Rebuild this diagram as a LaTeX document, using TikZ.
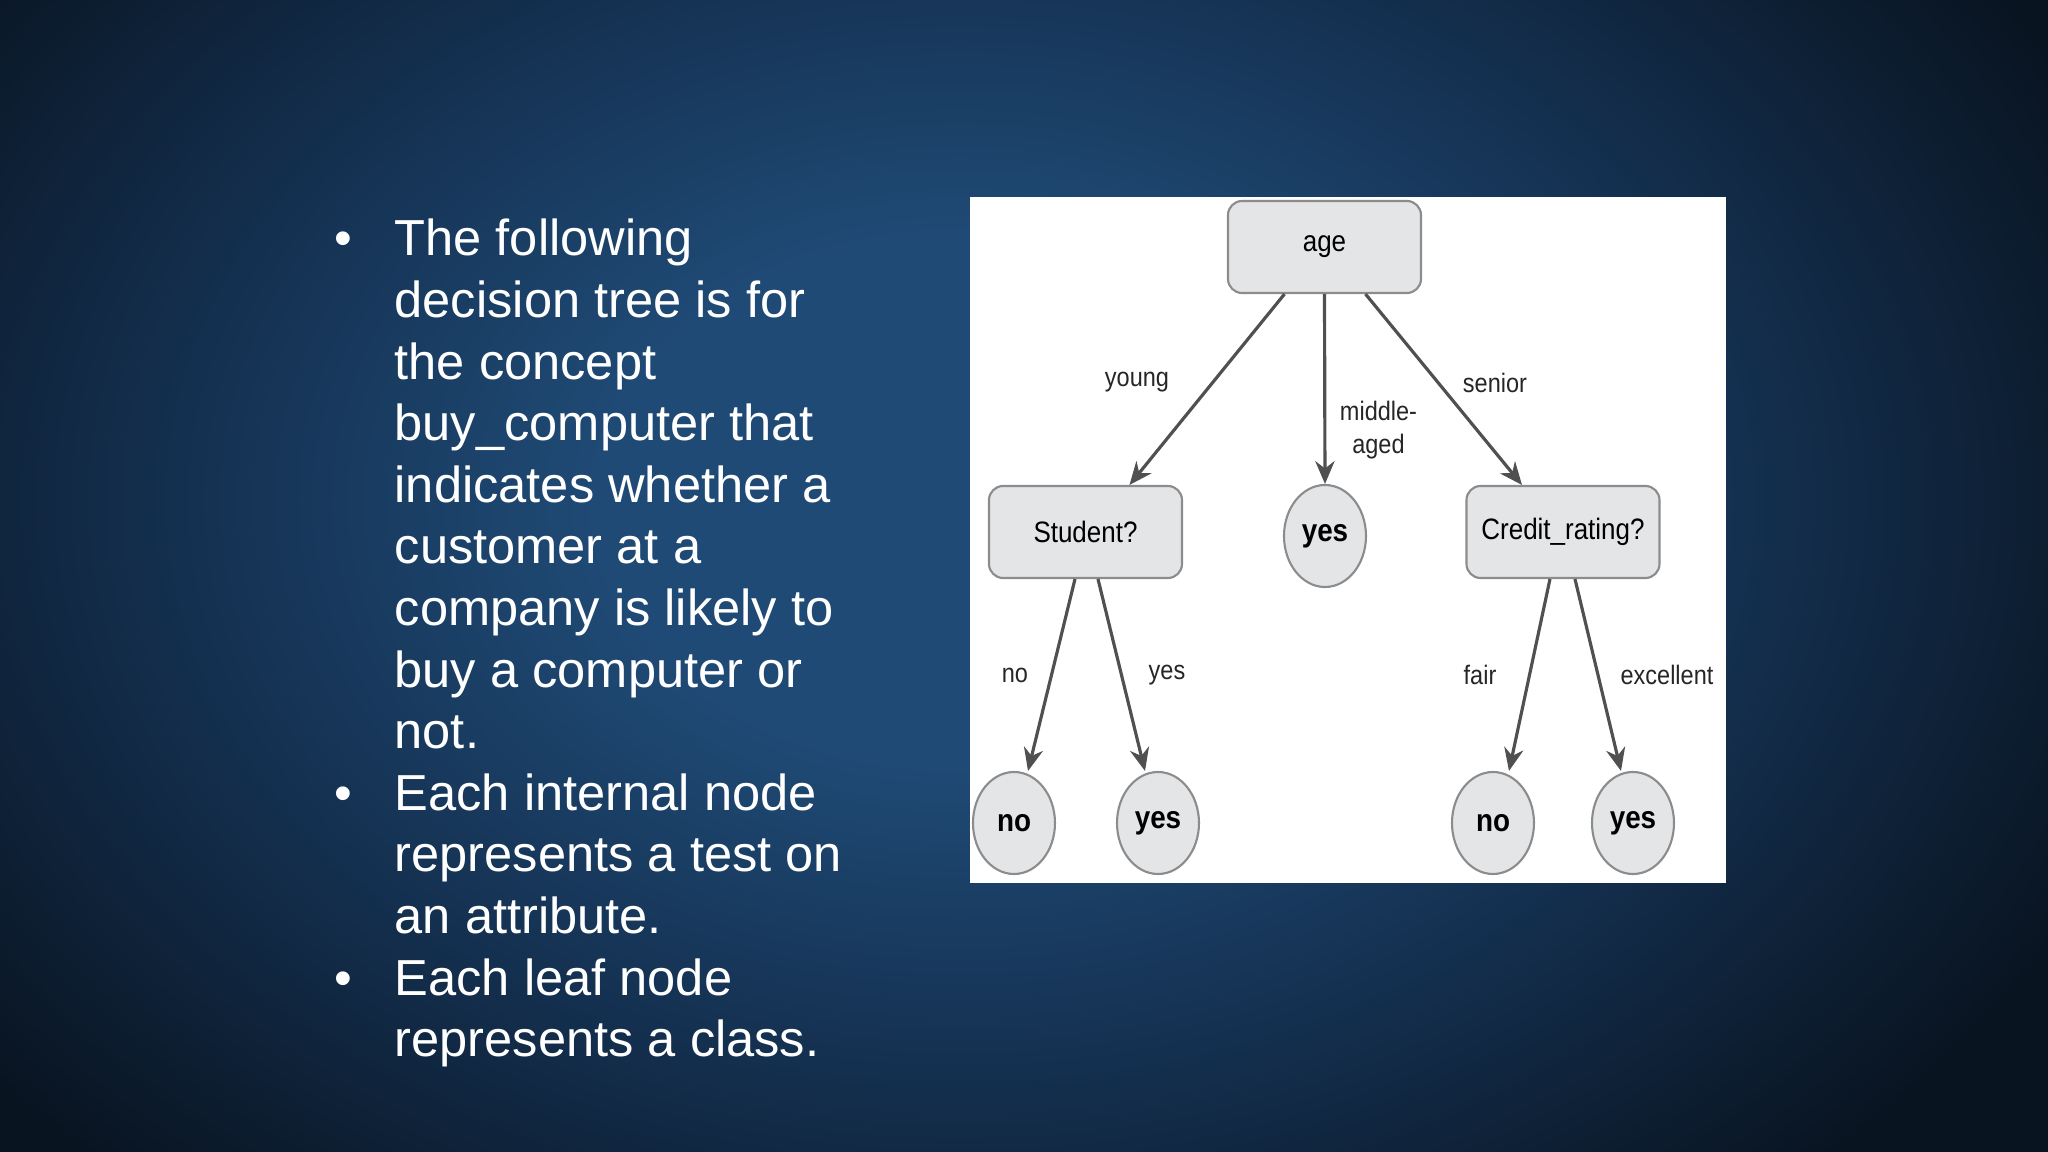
\documentclass[tikz,border=0pt]{standalone}
\usepackage{fontspec}
\setmainfont{Liberation Sans}
\newfontfamily\treefont[FakeStretch=0.88]{Liberation Sans}
\usetikzlibrary{arrows.meta,shapes.geometric}

\definecolor{bgcore}{RGB}{31,74,117}
\definecolor{bgmid}{RGB}{20,48,80}
\definecolor{bgedge}{RGB}{9,20,33}
\definecolor{boxfill}{RGB}{228,229,231}
\definecolor{boxline}{RGB}{140,140,140}
\definecolor{edgegray}{RGB}{80,80,80}

\pgfdeclareradialshading{slideglow}{\pgfpoint{0bp}{0bp}}{color(0bp)=(bgcore); color(7bp)=(bgcore); color(15bp)=(bgmid); color(24bp)=(bgedge); color(50bp)=(bgedge)}

\tikzset{
  testnode/.style={rectangle, rounded corners=4pt, draw=boxline, fill=boxfill, line width=0.6pt, minimum width=1.93cm, minimum height=0.92cm, font=\treefont\fontsize{8.4}{9}\selectfont},
  leafnode/.style={ellipse, draw=boxline, fill=boxfill, line width=0.6pt, minimum width=0.82cm, minimum height=1.02cm, inner sep=0pt, font=\treefont\bfseries\fontsize{9}{10}\selectfont},
  branch/.style={->, draw=edgegray, line width=0.9pt},
  branchlabel/.style={text=black!85, font=\treefont\fontsize{7.6}{9.2}\selectfont, align=center, inner sep=0pt},
  bodytext/.style={text=white, font=\fontsize{14.4}{17.3}\selectfont, anchor=base west, inner sep=0pt},
}

\begin{document}
\begin{tikzpicture}[>={Stealth[length=6.5pt,width=5.5pt]}]
\useasboundingbox (0,0) rectangle (20.48,-11.52);

% background
\fill[bgedge] (0,0) rectangle (20.48,-11.52);
\begin{scope}
\clip (0,0) rectangle (20.48,-11.52);
\shade[shading=slideglow] (9.6,-5.0) ellipse (13 and 9.5);
\end{scope}

% bullet text
\foreach \ln [count=\i] in {The following, decision tree is for, the concept,
  buy\_computer that, indicates whether a, customer at a,
  company is likely to, buy a computer or, not.,
  Each internal node, represents a test on, an attribute.,
  Each leaf node, represents a class.}
  \node[bodytext] (line\i) at (3.94,{-2.56-(\i-1)*0.616}) {\ln};
\node[bodytext, anchor=base] (dot1) at (3.43,-2.56) {•};
\node[bodytext, anchor=base] (dot2) at (3.43,-8.104) {•};
\node[bodytext, anchor=base] (dot3) at (3.43,-9.952) {•};

% tree panel
\fill[white] (9.70,-1.97) rectangle (17.26,-8.83);

\node[testnode] (age) at (13.245,-2.47) {age};
\node[testnode] (stud) at (10.855,-5.32) {Student?};
\node[leafnode] (midyes) at (13.25,-5.36) {yes};
\node[testnode] (cred) at (15.63,-5.32) {Credit\_rating?};
\node[leafnode] (no1) at (10.14,-8.23) {no};
\node[leafnode] (yes1) at (11.58,-8.23) {yes};
\node[leafnode] (no2) at (14.93,-8.23) {no};
\node[leafnode] (yes2) at (16.33,-8.23) {yes};

\draw[branch] ([xshift=-0.40cm]age.south) -- ([xshift=0.44cm]stud.north);
\draw[branch] (age.south) -- (midyes.north);
\draw[branch] ([xshift=0.41cm]age.south) -- ([xshift=-0.41cm]cred.north);
\draw[branch] ([xshift=-0.105cm]stud.south) -- ([xshift=0.14cm]no1.north);
\draw[branch] ([xshift=0.125cm]stud.south) -- ([xshift=-0.13cm]yes1.north);
\draw[branch] ([xshift=-0.13cm]cred.south) -- ([xshift=0.16cm]no2.north);
\draw[branch] ([xshift=0.12cm]cred.south) -- ([xshift=-0.12cm]yes2.north);

\node[branchlabel] (lyoung) at (11.37,-3.82) {young};
\node[branchlabel] (lmiddle) at (13.785,-4.30) {middle-\\aged};
\node[branchlabel] (lsenior) at (14.95,-3.83) {senior};
\node[branchlabel] (lno) at (10.15,-6.75) {no};
\node[branchlabel] (lyes) at (11.67,-6.75) {yes};
\node[branchlabel] (lfair) at (14.80,-6.75) {fair};
\node[branchlabel] (lexcel) at (16.67,-6.75) {excellent};
\end{tikzpicture}
\end{document}
